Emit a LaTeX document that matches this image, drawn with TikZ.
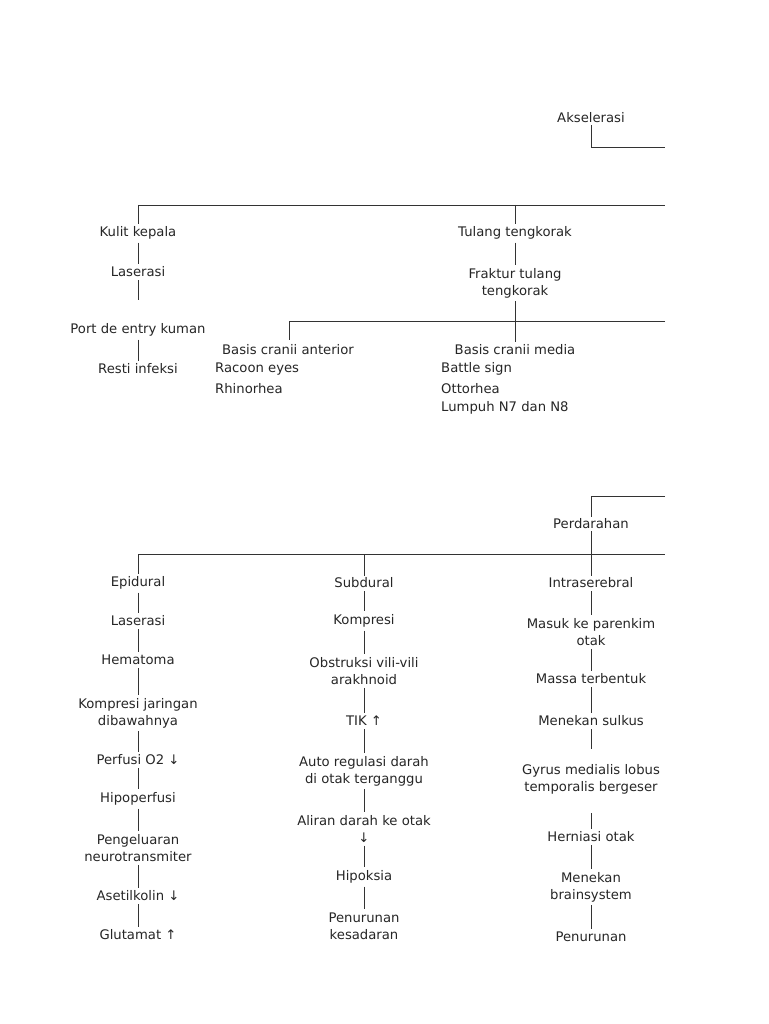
\documentclass[tikz,border=0pt]{standalone}
\usepackage{fontspec}
\setmainfont{DejaVu Sans}
\begin{document}
\begin{tikzpicture}[x=1pt,y=-1pt,
  lbl/.style={font=\fontsize{13.2}{17}\selectfont,align=center,inner sep=2pt,text=black!85},
  lft/.style={lbl,anchor=west,align=left},
  ln/.style={draw=black!80,line width=0.9pt},
  ch/.style={ln,shorten >=1pt,shorten <=1pt}]
\useasboundingbox (0,0) rectangle (768,1024);
\fill[white] (0,0) rectangle (768,1024);
% top
\node[lbl] (aks) at (591,118) {Akselerasi};
\coordinate (c1) at (591,147); \coordinate (c1r) at (665,147);
\draw[ln] (aks) -- (c1) -- (c1r);
\coordinate (b1l) at (138,205); \coordinate (b1m) at (515,205); \coordinate (b1r) at (665,205);
\draw[ln] (b1l) -- (b1r);
\node[lbl] (kulit) at (138,233) {Kulit kepala};
\node[lbl] (las1) at (138,272) {Laserasi};
\coordinate (las1e) at (138,301);
\node[lbl] (port) at (138,330) {Port de entry kuman};
\node[lbl] (resti) at (138,369) {Resti infeksi};
\draw[ln] (b1l) -- (kulit);
\draw[ch] (kulit) -- (las1); \draw[ch] (las1) -- (las1e); \draw[ch] (port) -- (resti);
\node[lbl] (tulang) at (515,233) {Tulang tengkorak};
\node[lbl] (fraktur) at (515,283) {Fraktur tulang\\tengkorak};
\draw[ln] (b1m) -- (tulang); \draw[ch] (tulang) -- (fraktur);
\coordinate (b2l) at (289,321); \coordinate (b2r) at (665,321);
\draw[ln] (b2r) -- (b2l) -- (289,340);
\node[lbl] (bca) at (288,350) {Basis cranii anterior};
\node[lft] (rac) at (213,369) {Racoon eyes};
\node[lft] (rhi) at (213,389) {Rhinorhea};
\node[lbl] (bcm) at (515,350) {Basis cranii media};
\node[lft] (bat) at (439,369) {Battle sign};
\node[lft] (ott) at (439,389) {Ottorhea};
\node[lft] (lum) at (439,408) {Lumpuh N7 dan N8};
\draw[ch] (fraktur) -- (bcm);
% bottom
\coordinate (c2) at (591,496); \coordinate (c2r) at (665,496);
\node[lbl] (perd) at (591,524) {Perdarahan};
\draw[ln] (c2r) -- (c2) -- (perd);
\coordinate (b3l) at (138,554); \coordinate (b3m) at (364,554); \coordinate (b3n) at (591,554); \coordinate (b3r) at (665,554);
\draw[ln] (b3l) -- (b3r);
% column 1
\node[lbl] (epi) at (138,583) {Epidural};
\node[lbl] (las2) at (138,621) {Laserasi};
\node[lbl] (hem) at (138,660) {Hematoma};
\node[lbl] (komj) at (138,713) {Kompresi jaringan\\dibawahnya};
\node[lbl] (perf) at (138,760) {Perfusi O2 ↓};
\node[lbl] (hipo) at (138,799) {Hipoperfusi};
\node[lbl] (peng) at (138,848) {Pengeluaran\\neurotransmiter};
\node[lbl] (aset) at (138,896) {Asetilkolin ↓};
\node[lbl] (glu) at (138,935) {Glutamat ↑};
\draw[ln] (b3l) -- (epi);
\draw[ch] (epi) -- (las2); \draw[ch] (las2) -- (hem); \draw[ch] (hem) -- (komj);
\draw[ch] (komj) -- (perf); \draw[ch] (perf) -- (hipo); \draw[ch] (hipo) -- (peng);
\draw[ch] (peng) -- (aset); \draw[ch] (aset) -- (glu);
% column 2
\node[lbl] (sub) at (364,583) {Subdural};
\node[lbl] (komp) at (364,621) {Kompresi};
\node[lbl] (obs) at (364,671) {Obstruksi vili-vili\\arakhnoid};
\node[lbl] (tik) at (364,721) {TIK ↑};
\node[lbl] (auto) at (364,771) {Auto regulasi darah\\di otak terganggu};
\node[lbl] (alir) at (364,829) {Aliran darah ke otak\\↓};
\node[lbl] (hipk) at (364,877) {Hipoksia};
\node[lbl] (pen1) at (364,926) {Penurunan\\kesadaran};
\draw[ln] (b3m) -- (sub);
\draw[ch] (sub) -- (komp); \draw[ch] (komp) -- (obs); \draw[ch] (obs) -- (tik);
\draw[ch] (tik) -- (auto); \draw[ch] (auto) -- (alir); \draw[ch] (alir) -- (hipk);
\draw[ch] (hipk) -- (pen1);
% column 3
\node[lbl] (intra) at (591,583) {Intraserebral};
\node[lbl] (masuk) at (591,632) {Masuk ke parenkim\\otak};
\node[lbl] (massa) at (591,679) {Massa terbentuk};
\node[lbl] (mens) at (591,721) {Menekan sulkus};
\node[lbl] (gyr) at (591,779) {Gyrus medialis lobus\\temporalis bergeser};
\coordinate (gyre) at (591,812);
\node[lbl] (hern) at (591,837) {Herniasi otak};
\node[lbl] (menb) at (591,887) {Menekan\\brainsystem};
\node[lbl] (pen2) at (591,937) {Penurunan};
\draw[ln] (perd) -- (intra);
\draw[ch] (intra) -- (masuk); \draw[ch] (masuk) -- (massa); \draw[ch] (massa) -- (mens);
\draw[ch] (mens) -- (591,750); \draw[ch] (gyre) -- (hern); \draw[ch] (hern) -- (menb);
\draw[ch] (menb) -- (pen2);
\end{tikzpicture}
\end{document}
